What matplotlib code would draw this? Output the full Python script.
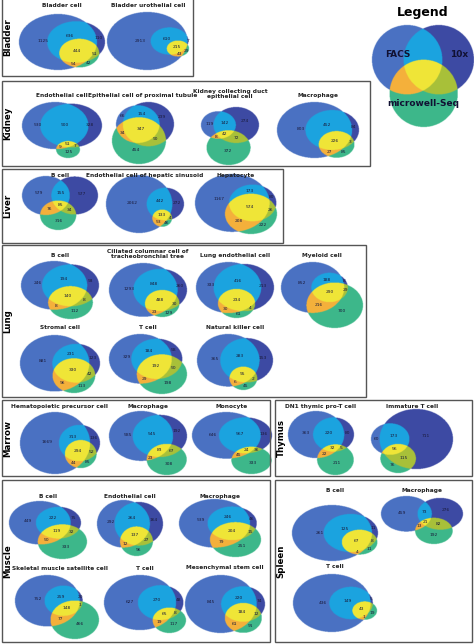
import numpy as np
import matplotlib
matplotlib.use("Agg")
import matplotlib.pyplot as plt
from matplotlib.patches import Rectangle

# region order: FACS only, 10x only, FACS&10x, microwell only, FACS&mw, 10x&mw, all three
bladder_cell = [1125, 110, 636, 42, 54, 51, 444]
bladder_uro = [2913, 7, 610, 29, 43, 0, 215]
kid_endo = [530, 328, 900, 125, 9, 7, 51]
kid_epi = [66, 239, 154, 454, 34, 90, 347]
kid_duct = [119, 274, 142, 372, 8, 72, 42]
kid_mac = [803, 84, 452, 85, 27, 3, 226]
liv_b = [579, 577, 155, 316, 76, 34, 85]
liv_endo = [2062, 272, 442, 46, 53, 4, 133]
liv_hep = [1167, 80, 173, 222, 208, 26, 574]
lung_b = [246, 93, 194, 112, 8, 8, 140]
lung_cil = [1293, 260, 848, 129, 23, 30, 488]
lung_endo = [333, 213, 416, 61, 30, 4, 234]
lung_mye = [852, 8, 188, 700, 216, 29, 290]
lung_str = [881, 123, 231, 113, 96, 42, 330]
lung_t = [329, 58, 184, 198, 29, 50, 192]
lung_nk = [365, 153, 283, 45, 6, 2, 95]
mar_hpc = [1669, 136, 313, 85, 44, 52, 294]
mar_mac = [585, 192, 545, 308, 23, 67, 83]
mar_mono = [646, 136, 567, 333, 45, 36, 24]
thy_dn1 = [363, 80, 220, 211, 22, 5, 32]
thy_imm = [60, 711, 173, 76, 0, 115, 56]
mus_b = [449, 75, 222, 333, 50, 32, 119]
mus_endo = [292, 164, 264, 96, 12, 27, 137]
mus_mac = [539, 46, 246, 251, 79, 15, 204]
mus_sat = [752, 20, 259, 466, 77, 1, 148]
mus_t = [627, 48, 270, 117, 19, 8, 65]
mus_msc = [845, 74, 220, 91, 61, 12, 184]
spl_b = [261, 11, 125, 11, 4, 8, 67]
spl_mac = [459, 276, 73, 192, 13, 82, 21]
spl_t = [436, 5, 149, 19, 1, 0, 43]

tissues = ["Bladder", "Kidney", "Liver", "Lung", "Marrow", "Thymus", "Muscle", "Spleen"]

# (title, data, center_x, center_y, title_y, box_w, box_h)
venns = [
    ("Bladder cell", bladder_cell, 62, 42, 5, 86, 56),
    ("Bladder urothelial cell", bladder_uro, 148, 41, 5, 82, 58),
    ("Endothelial cell", kid_endo, 62, 130, 95, 80, 56),
    ("Epithelial cell of proximal tubule", kid_epi, 143, 133, 95, 62, 62),
    ("Kidney collecting duct\nepithelial cell", kid_duct, 230, 136, 94, 58, 58),
    ("Macrophage", kid_mac, 318, 130, 95, 82, 56),
    ("B cell", liv_b, 60, 203, 175, 76, 54),
    ("Endothelial cell of hepatic sinusoid", liv_endo, 145, 204, 175, 78, 58),
    ("Hepatocyte", liv_hep, 236, 204, 175, 82, 60),
    ("B cell", lung_b, 60, 290, 255, 78, 58),
    ("Ciliated columnar cell of\ntracheobronchial tree", lung_cil, 148, 290, 254, 78, 54),
    ("Lung endothelial cell", lung_endo, 235, 290, 255, 78, 56),
    ("Myeloid cell", lung_mye, 322, 295, 255, 82, 66),
    ("Stromal cell", lung_str, 60, 364, 327, 80, 58),
    ("T cell", lung_t, 148, 364, 327, 78, 60),
    ("Natural killer cell", lung_nk, 235, 362, 327, 76, 56),
    ("Hematopoietic precursor cell", mar_hpc, 60, 443, 406, 80, 62),
    ("Macrophage", mar_mac, 148, 443, 406, 78, 64),
    ("Monocyte", mar_mono, 232, 443, 406, 80, 62),
    ("DN1 thymic pro-T cell", thy_dn1, 321, 443, 406, 66, 64),
    ("Immature T cell", thy_imm, 412, 441, 406, 82, 64),
    ("B cell", mus_b, 48, 530, 496, 78, 58),
    ("Endothelial cell", mus_endo, 130, 528, 496, 66, 56),
    ("Macrophage", mus_mac, 220, 528, 496, 82, 58),
    ("Skeletal muscle satellite cell", mus_sat, 57, 607, 568, 84, 64),
    ("T cell", mus_t, 145, 604, 568, 82, 58),
    ("Mesenchymal stem cell", mus_msc, 225, 604, 568, 80, 58),
    ("B cell", spl_b, 335, 533, 490, 86, 56),
    ("Macrophage", spl_mac, 422, 520, 490, 82, 48),
    ("T cell", spl_t, 335, 603, 567, 84, 58),
]

colors = {
    1: "#4a72c2", 2: "#3d4aa3", 3: "#1ba3df", 4: "#3db88a",
    5: "#f4b03c", 6: "#a8c03a", 7: "#efe637",
}

W, H = 474, 644
S = 3
PAD = 20
canvas = np.ones(((H + 2 * PAD) * S, (W + 2 * PAD) * S, 3))

def lens(r1, r2, d):
    if d >= r1 + r2:
        return 0.0
    if d <= abs(r1 - r2):
        return np.pi * min(r1, r2) ** 2
    a = r1**2 * np.arccos((d*d + r1*r1 - r2*r2) / (2*d*r1))
    b = r2**2 * np.arccos((d*d + r2*r2 - r1*r1) / (2*d*r2))
    c = 0.5 * np.sqrt((-d+r1+r2)*(d+r1-r2)*(d-r1+r2)*(d+r1+r2))
    return a + b - c

def solve_d(r1, r2, target):
    lo, hi = abs(r1 - r2), r1 + r2
    for _ in range(60):
        m = (lo + hi) / 2
        if lens(r1, r2, m) > target:
            lo = m
        else:
            hi = m
    return (lo + hi) / 2

def hexrgb(h):
    return [int(h[i:i+2], 16) / 255 for i in (1, 3, 5)]

def geometry(v):
    a, b, ab, c, ac, bc, abc = v
    A = a + ab + ac + abc; B = b + ab + bc + abc; C = c + ac + bc + abc
    rA, rB, rC = [np.sqrt(x / np.pi) for x in (A, B, C)]
    dAB = solve_d(rA, rB, ab + abc)
    dAC = solve_d(rA, rC, ac + abc)
    dBC = solve_d(rB, rC, bc + abc)
    x = (dAB**2 + dAC**2 - dBC**2) / (2 * dAB) if dAB > 0 else 0
    y = np.sqrt(max(0.0, dAC**2 - x**2))
    return [(0, 0, rA), (dAB, 0, rB), (x, y, rC)]

labels = []

def draw_venn(circ, cx, cy, bw, bh, vals=None):
    xs = [c[0] - c[2] for c in circ] + [c[0] + c[2] for c in circ]
    ys = [c[1] - c[2] for c in circ] + [c[1] + c[2] for c in circ]
    x0, x1, y0, y1 = min(xs), max(xs), min(ys), max(ys)
    sx = bw / (x1 - x0); sy = bh / (y1 - y0)
    if sx > 1.5 * sy:
        sx = 1.5 * sy
    if sy > 1.1 * sx:
        sy = 1.1 * sx
    mx, my = (x0 + x1) / 2, (y0 + y1) / 2
    px0, px1 = int((cx - bw/2 - 3 + PAD) * S), int((cx + bw/2 + 3 + PAD) * S)
    py0, py1 = int((cy - bh/2 - 3 + PAD) * S), int((cy + bh/2 + 3 + PAD) * S)
    gx, gy = np.meshgrid((np.arange(px0, px1) + 0.5) / S - PAD, (np.arange(py0, py1) + 0.5) / S - PAD)
    ux = (gx - cx) / sx + mx
    uy = (gy - cy) / sy + my
    ins = [((ux - c[0])**2 + (uy - c[1])**2) <= c[2]**2 for c in circ]
    code = ins[0] * 1 + ins[1] * 2 + ins[2] * 4
    sub = canvas[py0:py1, px0:px1]
    for reg in range(1, 8):
        m = code == reg
        sub[m] = hexrgb(colors[reg])
        if vals is not None and vals[reg - 1] > 0 and m.sum() > 0:
            labels.append((gx[m].mean(), gy[m].mean(), str(vals[reg - 1])))

for title, v, cx, cy, ty, bw, bh in venns:
    draw_venn(geometry(v), cx, cy, bw, bh, v)

leg = [(0, 0, 1.0), (0.9, 0, 1.0), (0.47, 0.97, 0.97)]
draw_venn(leg, 423, 76, 102, 102)

fig = plt.figure(figsize=(W / 100, H / 100), dpi=100)
ax = fig.add_axes([0, 0, 1, 1])
ax.imshow(canvas, extent=[-PAD, W + PAD, H + PAD, -PAD], interpolation="bilinear")
ax.set_xlim(0, W); ax.set_ylim(H, 0); ax.axis("off")

for x, y, t in labels:
    ax.text(x, y, t, fontsize=3.2, ha="center", va="center", color="#1a1a3a")
for title, v, cx, cy, ty, bw, bh in venns:
    tx = max(cx, 60) if "Skeletal" in title else cx
    ax.text(tx, ty, title, fontsize=4.2, fontweight="bold", ha="center", va="center",
            color="#222222", linespacing=1.0)

boxes = [(2, -2, 191, 78), (2, 81, 368, 85), (2, 169, 281, 74), (2, 245, 364, 152),
         (2, 400, 268, 76), (275, 400, 197, 76), (2, 480, 268, 162), (275, 480, 197, 162)]
for (x, y, w, h), name in zip(boxes, tissues):
    ax.add_patch(Rectangle((x, y), w, h, fill=False, ec="#555555", lw=1.0))
    ax.text(x + 6, y + h / 2, name, rotation=90, fontsize=6.2,
            fontweight="bold", ha="center", va="center")

ax.text(423, 12, "Legend", fontsize=9, fontweight="bold", ha="center", va="center")
ax.text(398, 54, "FACS", fontsize=6.5, fontweight="bold", ha="center", va="center", color="#111133")
ax.text(459, 54, "10x", fontsize=6.5, fontweight="bold", ha="center", va="center", color="#111133")
ax.text(423, 103, "microwell-Seq", fontsize=6.5, fontweight="bold", ha="center", va="center", color="#111133")

fig.savefig("out.png", dpi=100)
